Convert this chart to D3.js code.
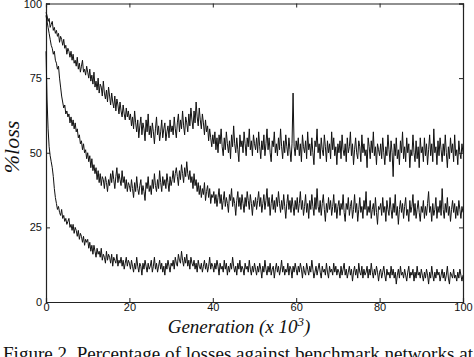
<!DOCTYPE html>
<html>
<head>
<meta charset="utf-8">
<script src="https://cdn.jsdelivr.net/npm/d3@7/dist/d3.min.js"></script>
<style>
html,body{margin:0;padding:0;background:#fff;overflow:hidden;}
svg{display:block;}
</style>
</head>
<body>
<svg id="chart" width="474" height="357"></svg>
<script>
// Generation (x 10^3), sampled every 0.25
const step = 0.25;

const seriesTop = [97,
96,94,95,92,93,94,91,92,90,91,89,90,87,89,88,86,88,85,86,83,85,84,82,84,81,83,80,81,79,82,78,80,77,79,81,77,78,76,79,77,
75,78,74,76,73,77,72,74,71,75,70,73,72,69,74,70,68,71,67,72,69,66,70,67,65,69,64,68,66,63,67,64,62,66,63,61,65,62,64,61,
63,59,62,58,64,60,57,61,55,59,62,56,60,58,54,61,57,63,56,59,55,60,57,53,58,62,56,59,54,57,61,55,58,60,54,57,59,55,61,57,
59,56,62,58,55,60,63,57,61,58,64,59,56,62,60,57,63,59,65,61,58,64,60,67,62,59,65,61,58,63,60,56,61,57,59,54,58,55,52,56,
53,57,51,55,50,56,53,58,52,49,55,51,57,53,50,54,48,56,52,59,53,50,55,51,47,56,52,54,50,57,53,49,55,52,58,51,54,49,56,53,
51,55,50,57,52,48,54,51,56,49,53,58,51,55,50,47,54,52,57,50,53,49,55,51,58,52,48,54,50,56,52,49,55,51,47,53,70,52,49,54,
51,55,49,53,47,56,52,50,54,48,57,51,53,49,55,50,46,54,52,58,50,53,48,55,51,49,56,52,47,54,50,53,48,57,51,55,49,52,46,53,
50,54,48,56,51,49,53,47,55,50,52,57,49,53,46,51,55,50,48,54,52,47,56,50,53,49,51,45,55,52,48,54,50,57,49,52,46,53,51,49,
53,48,55,50,46,52,49,56,51,47,54,50,42,53,49,55,48,51,46,54,50,57,48,52,47,55,50,53,45,51,49,56,50,47,54,48,52,45,55,50,
52,47,55,49,53,46,51,56,49,53,47,58,50,52,46,54,49,55,51,47,53,49,56,50,45,52,48,55,50,53,47,56,49,51,46,54,50,48,53,50
];

const seriesMiddle = [96,
94,92,90,88,86,85,83,84,81,80,78,79,75,72,69,67,65,66,63,64,62,63,60,62,59,61,58,60,57,58,55,56,53,54,51,53,50,51,48,50,
47,49,45,48,44,46,43,45,41,44,40,43,39,42,41,38,42,40,37,41,39,43,40,44,41,38,42,45,40,43,41,39,44,40,42,38,41,37,40,39,
37,41,38,35,40,37,42,38,36,39,41,36,39,37,34,40,38,42,37,39,36,41,38,43,39,37,41,38,44,40,37,42,39,41,38,43,40,37,42,39,
41,44,40,43,45,42,39,44,41,46,43,40,45,42,47,43,41,44,40,42,38,43,39,41,37,40,36,39,35,38,36,40,34,37,39,35,38,33,36,35,
37,33,36,32,35,38,33,36,31,34,37,32,35,33,30,36,34,38,32,35,33,29,34,37,32,35,31,36,33,30,35,32,37,34,31,36,33,29,34,32,
35,31,34,37,32,35,30,33,36,31,34,38,32,35,29,33,36,31,34,30,35,32,37,33,30,34,31,36,32,28,33,36,31,34,30,35,32,29,34,31,
35,30,33,37,31,34,29,32,36,30,33,28,34,31,36,32,29,35,31,38,32,30,34,29,33,36,31,27,33,30,35,31,34,29,32,36,30,33,28,32,
34,29,33,31,36,30,27,33,31,35,29,32,34,28,31,36,30,33,27,31,35,30,32,28,34,31,37,29,32,30,34,28,31,33,29,35,30,26,32,31,
33,29,35,30,32,27,34,31,29,35,31,28,33,30,36,29,32,26,31,34,30,33,28,32,35,29,31,27,34,30,32,36,29,33,28,31,34,30,27,32,
30,34,28,32,29,33,37,30,32,27,33,29,31,35,28,32,30,34,29,38,31,28,33,30,35,29,32,27,31,34,30,33,28,32,29,34,31,28,32,30
];

const seriesBottom = [84,
68,58,52,49,47,45,42,38,35,33,31,32,30,29,31,28,29,27,28,26,27,28,25,26,24,26,23,25,24,22,24,21,23,22,20,22,19,21,20,21,
18,20,17,19,16,19,17,15,18,16,17,15,18,14,16,15,13,17,14,16,15,13,16,12,15,14,13,16,12,14,13,15,12,14,11,13,15,12,14,13,
11,14,12,10,13,11,15,12,10,13,12,9,13,11,14,12,10,13,11,12,14,10,12,15,11,13,10,12,14,11,13,10,12,9,13,11,14,12,10,13,
12,14,11,15,13,12,16,14,13,17,14,12,15,13,16,12,14,11,15,13,12,14,11,13,10,14,12,11,13,10,12,14,11,13,10,12,15,11,13,12,
10,13,11,14,12,9,13,11,12,10,14,11,13,9,12,10,13,11,15,12,10,12,9,13,11,14,10,12,11,9,13,11,12,10,14,11,9,12,10,13,
11,9,12,10,13,11,8,12,10,14,11,9,12,10,13,9,11,12,8,11,13,10,12,9,11,14,10,12,9,11,10,13,9,12,11,8,12,10,13,11,
9,12,10,13,11,8,12,10,9,13,11,9,12,10,14,11,8,10,12,9,11,13,10,8,12,10,11,9,13,10,8,12,10,11,9,13,10,12,9,11,
10,8,12,9,11,13,9,11,8,10,12,9,11,7,10,12,9,11,8,13,10,9,12,8,11,9,10,12,8,11,9,13,10,8,11,9,12,10,7,10,
11,8,10,12,9,7,11,9,10,8,12,9,11,8,10,6,9,11,8,12,9,10,8,11,9,7,10,12,8,10,9,11,7,10,8,12,9,10,8,11,
9,7,10,8,11,9,6,10,8,12,9,7,10,8,11,9,10,7,9,11,8,10,7,9,12,8,6,10,9,8,11,8,9,7,10,8,11,9,7,9
];

const xTicks = [0, 20, 40, 60, 80, 100];
const yTicks = [0, 25, 50, 75, 100];
const xLabel = "Generation (x 10";
const xLabelSup = "3";
const yLabel = "%loss";
const caption = "Figure 2. Percentage of losses against benchmark networks at";

const svg = d3.select("#chart");
const L = 46, R = 463, T = 3.5, B = 302;
const x = d3.scaleLinear().domain([0, 100]).range([L, R]);
const y = d3.scaleLinear().domain([0, 100]).range([B, T]);

const tickFont = "'Liberation Sans', Arial, sans-serif";

// axes (ticks inward, box on all sides)
const gx = svg.append("g").attr("transform", `translate(0,${B})`)
  .call(d3.axisBottom(x).tickValues(xTicks).tickSize(-4).tickPadding(1.5).tickFormat(d3.format("d")));
const gxTop = svg.append("g").attr("transform", `translate(0,${T})`)
  .call(d3.axisTop(x).tickValues(xTicks).tickSize(-4).tickFormat(""));
const gy = svg.append("g").attr("transform", `translate(${L},0)`)
  .call(d3.axisLeft(y).tickValues(yTicks).tickSize(-4).tickPadding(4).tickFormat(d3.format("d")));
const gyR = svg.append("g").attr("transform", `translate(${R},0)`)
  .call(d3.axisRight(y).tickValues(yTicks).tickSize(-4).tickFormat(""));

[gx, gxTop, gy, gyR].forEach(g => {
  g.select(".domain").attr("stroke", "#222").attr("stroke-width", 1.2);
  g.selectAll(".tick line").attr("stroke", "#222");
  g.selectAll("text").attr("font-family", tickFont).attr("font-size", 11).attr("fill", "#111");
});

// lines
const line = d3.line().x((d, i) => x(i * step)).y(d => y(d));
[seriesTop, seriesMiddle, seriesBottom].forEach(s => {
  svg.append("path").datum(s).attr("d", line)
    .attr("fill", "none").attr("stroke", "#111").attr("stroke-width", 1);
});

// axis labels
const serif = "'Liberation Serif', 'DejaVu Serif', serif";
const xl = svg.append("text").attr("x", 239).attr("y", 333)
  .attr("text-anchor", "middle").attr("font-family", serif)
  .attr("font-style", "italic").attr("font-size", 19).attr("fill", "#111");
xl.append("tspan").text(xLabel);
xl.append("tspan").attr("dy", -7).attr("font-size", 13).text(xLabelSup);
xl.append("tspan").attr("dy", 7).text(")");

svg.append("text").attr("transform", "translate(19,147) rotate(-90)")
  .attr("text-anchor", "middle").attr("font-family", serif)
  .attr("font-style", "italic").attr("font-size", 22).attr("fill", "#111").text(yLabel);

// caption (cut by the bottom edge, as in the reference)
const cap = svg.append("text").attr("x", 3).attr("y", 360)
  .attr("font-family", serif).attr("font-size", 20).attr("fill", "#111").text(caption);
const w = cap.node().getComputedTextLength();
cap.attr("font-size", 20 * 470 / w);
</script>
</body>
</html>
